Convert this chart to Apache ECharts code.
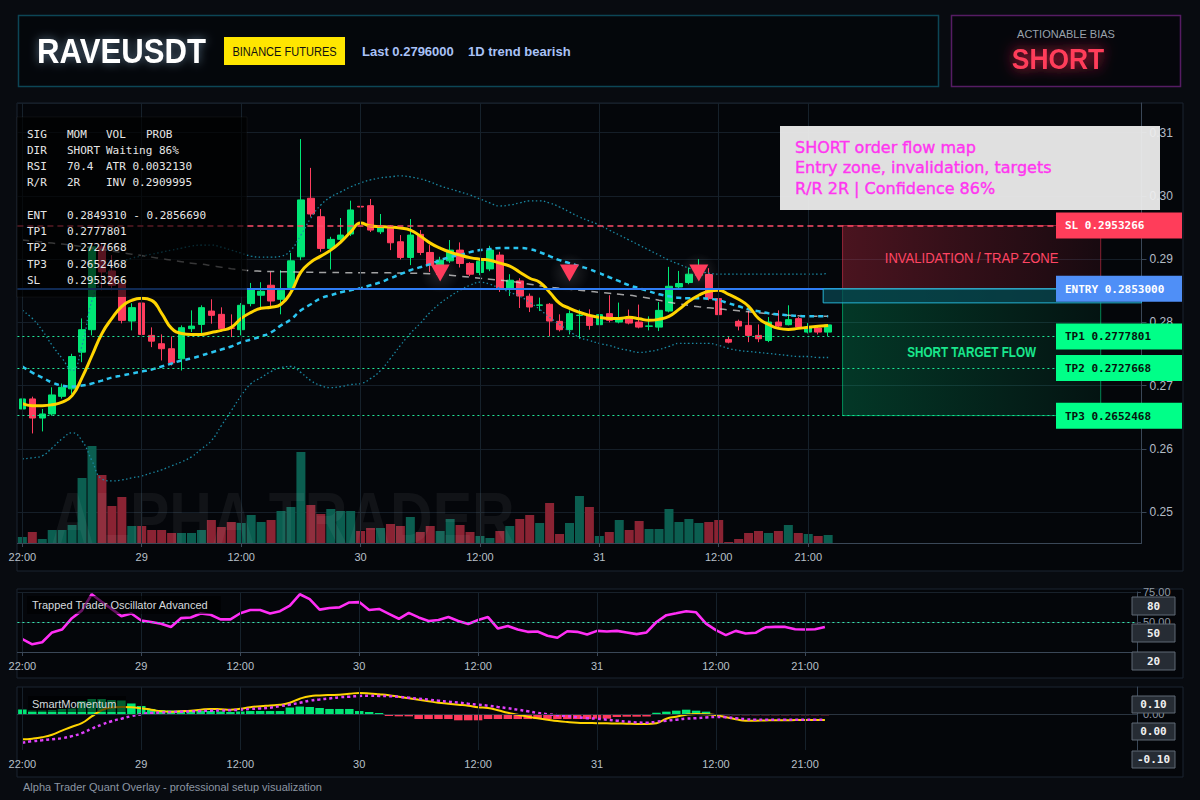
<!DOCTYPE html>
<html><head><meta charset="utf-8">
<script src="https://cdn.jsdelivr.net/npm/echarts@6/dist/echarts.min.js"></script>
<style>html,body{margin:0;padding:0;background:#080b10;}#c{width:1200px;height:800px;}</style>
</head><body><div id="c"></div>
<script>
// ---------- DATA ----------
const SLOT_COUNT = 113; // 82 hourly candles + empty space on the right
const categories = Array.from({length: SLOT_COUNT}, (_, i) => 'h' + i);
const tickIdx = [0, 12, 22, 34, 46, 58, 70, 79];
const tickLabels = ['22:00', '29', '12:00', '30', '12:00', '31', '12:00', '21:00'];

// [open, close, low, high]
const ohlc = [
 [0.26630,0.26789,0.26576,0.26841],[0.26789,0.26487,0.26243,0.26825],[0.26487,0.26551,0.26275,0.26630],[0.26551,0.26852,0.26524,0.26973],
 [0.26830,0.26973,0.26794,0.27032],[0.26948,0.27460,0.26868,0.27503],[0.27529,0.27884,0.27370,0.28063],[0.27884,0.29195,0.27794,0.29254],
 [0.29195,0.28798,0.28508,0.29254],[0.28814,0.28587,0.28508,0.29064],[0.28614,0.28032,0.27984,0.28667],[0.28021,0.28233,0.27873,0.28302],
 [0.28306,0.27810,0.27778,0.28349],[0.27794,0.27703,0.27608,0.27921],[0.27662,0.27583,0.27397,0.27810],[0.27583,0.27360,0.27317,0.27778],
 [0.27424,0.27916,0.27238,0.27952],[0.27900,0.27941,0.27846,0.28190],[0.27968,0.28233,0.27830,0.28270],[0.28179,0.28111,0.27979,0.28365],
 [0.28127,0.27900,0.27857,0.28238],[0.27913,0.27905,0.27767,0.28127],[0.27884,0.28270,0.27794,0.28306],[0.28297,0.28535,0.28254,0.28624],
 [0.28429,0.28492,0.28243,0.28635],[0.28587,0.28338,0.28243,0.28798],[0.28365,0.28508,0.28127,0.28825],[0.28551,0.28973,0.28508,0.29100],
 [0.29037,0.29937,0.28984,0.30900],[0.29963,0.29714,0.29671,0.30444],[0.29671,0.29170,0.29116,0.29794],[0.29170,0.29313,0.28837,0.29354],
 [0.29313,0.29381,0.29286,0.29651],[0.29397,0.29778,0.29365,0.29925],[0.29836,0.29825,0.29794,0.29925],[0.29846,0.29460,0.29429,0.29952],
 [0.29433,0.29513,0.29397,0.29714],[0.29487,0.29259,0.29143,0.29540],[0.29275,0.29027,0.28995,0.29381],[0.29027,0.29381,0.28905,0.29635],
 [0.29392,0.29106,0.29064,0.29460],[0.29106,0.28905,0.28798,0.29222],[0.28905,0.28984,0.28857,0.29037],[0.28973,0.29143,0.28941,0.29302],
 [0.29143,0.28932,0.28868,0.29265],[0.28932,0.28762,0.28730,0.28952],[0.28789,0.28968,0.28746,0.29011],[0.28846,0.29143,0.28810,0.29211],
 [0.29064,0.28524,0.28481,0.29116],[0.28524,0.28667,0.28417,0.28762],[0.28656,0.28417,0.28227,0.28698],[0.28413,0.28243,0.28163,0.28456],
 [0.28270,0.28276,0.28179,0.28392],[0.28286,0.28021,0.27778,0.28306],[0.28016,0.27884,0.27857,0.28127],[0.27884,0.28138,0.27810,0.28190],
 [0.28108,0.28114,0.27741,0.28202],[0.28111,0.27952,0.27884,0.28206],[0.27963,0.28122,0.27873,0.28175],[0.28138,0.28032,0.28000,0.28429],
 [0.28005,0.28068,0.27984,0.28313],[0.28059,0.27989,0.27968,0.28202],[0.28005,0.27925,0.27905,0.28281],[0.27937,0.27944,0.27873,0.28095],
 [0.27925,0.28190,0.27862,0.28322],[0.28179,0.28571,0.28159,0.28878],[0.28560,0.28614,0.28540,0.28814],[0.28630,0.28762,0.28603,0.28868],
 [0.28746,0.28889,0.28714,0.29000],[0.28757,0.28376,0.28349,0.28857],[0.28376,0.28122,0.28043,0.28456],[0.27730,0.27687,0.27667,0.27778],
 [0.28016,0.27941,0.27873,0.28043],[0.27952,0.27794,0.27687,0.28190],[0.27794,0.27741,0.27687,0.27968],[0.27714,0.28005,0.27687,0.28084],
 [0.28005,0.27941,0.27921,0.28190],[0.27963,0.28043,0.27952,0.28270],[0.28059,0.27925,0.27905,0.28084],[0.27846,0.27925,0.27825,0.27989],
 [0.27910,0.27846,0.27810,0.27937],[0.27846,0.27960,0.27783,0.27968]
];

const volume = [6,11,4,13,13,18,65,97,68,37, 46,17,17,13,13,10,10,10,13,23, 16,21,20,28,21,23,32,36,91,38,
 29,34,32,32,12,15,15,19,17,26, 11,17,12,24,18,11,7,5,12,17, 24,28,20,40,9,20,47,36,7,11,
 23,13,22,14,14,34,21,24,20,21, 23,1,4,10,12,10,12,18,10,9, 7,8];

const emaFast = [0.26714,0.26683,0.26683,0.26698,0.26738,0.26841,0.27127,0.27476,0.27825,0.28063,
 0.28254,0.28349,0.28381,0.28349,0.28143,0.27905,0.27825,0.27810,0.27810,0.27841,
 0.27873,0.27921,0.28063,0.28159,0.28222,0.28238,0.28286,0.28476,0.28794,0.28952,
 0.29048,0.29143,0.29270,0.29429,0.29571,0.29524,0.29516,0.29508,0.29492,0.29460,
 0.29365,0.29254,0.29175,0.29111,0.29064,0.29024,0.29000,0.28984,0.28937,0.28889,
 0.28794,0.28698,0.28635,0.28476,0.28302,0.28222,0.28159,0.28111,0.28079,0.28063,
 0.28063,0.28079,0.28056,0.28032,0.28048,0.28095,0.28206,0.28333,0.28429,0.28492,
 0.28508,0.28444,0.28365,0.28254,0.28063,0.27968,0.27905,0.27889,0.27905,0.27921,
 0.27937,0.27952];

const emaSlow = [0.27302,0.27206,0.27127,0.27048,0.27000,0.26984,0.27000,0.27032,0.27079,0.27127,
 0.27159,0.27190,0.27222,0.27254,0.27302,0.27349,0.27397,0.27429,0.27476,0.27524,
 0.27571,0.27619,0.27683,0.27730,0.27778,0.27841,0.27952,0.28048,0.28190,0.28286,
 0.28381,0.28429,0.28476,0.28508,0.28540,0.28587,0.28635,0.28698,0.28762,0.28825,
 0.28873,0.28921,0.28984,0.29032,0.29064,0.29111,0.29143,0.29159,0.29175,0.29175,
 0.29175,0.29159,0.29111,0.29048,0.28984,0.28937,0.28889,0.28841,0.28778,0.28714,
 0.28651,0.28587,0.28540,0.28492,0.28444,0.28413,0.28389,0.28381,0.28381,0.28373,
 0.28349,0.28302,0.28254,0.28206,0.28175,0.28143,0.28127,0.28111,0.28103,0.28095,
 0.28095,0.28095];

const trendMA = [0.29302,0.29286,0.29270,0.29254,0.29238,0.29222,0.29198,0.29175,0.29151,0.29127,
 0.29103,0.29079,0.29056,0.29032,0.29008,0.28984,0.28960,0.28937,0.28921,0.28897,
 0.28873,0.28849,0.28833,0.28817,0.28810,0.28805,0.28802,0.28797,0.28794,0.28792,
 0.28790,0.28789,0.28787,0.28786,0.28786,0.28784,0.28784,0.28783,0.28781,0.28778,
 0.28775,0.28770,0.28762,0.28746,0.28730,0.28714,0.28698,0.28683,0.28667,0.28651,
 0.28627,0.28603,0.28579,0.28556,0.28540,0.28524,0.28508,0.28492,0.28476,0.28460,
 0.28444,0.28429,0.28405,0.28381,0.28349,0.28317,0.28294,0.28270,0.28246,0.28230,
 0.28214,0.28198,0.28183,0.28167,0.28151,0.28135,0.28119,0.28111,0.28103,0.28095,
 0.28095,0.28095];

const bandUpper = [0.28190,0.28063,0.27873,0.27635,0.27429,0.27238,0.27635,0.28349,0.28667,0.28857,
 0.28952,0.29016,0.29048,0.29079,0.29111,0.29143,0.29175,0.29206,0.29222,0.29222,
 0.29190,0.29143,0.29095,0.29048,0.29032,0.29032,0.29048,0.29143,0.29381,0.29651,
 0.29857,0.29984,0.30063,0.30143,0.30206,0.30254,0.30286,0.30302,0.30317,0.30302,
 0.30270,0.30222,0.30159,0.30111,0.30063,0.30016,0.29952,0.29889,0.29841,0.29857,
 0.29889,0.29921,0.29921,0.29889,0.29825,0.29746,0.29667,0.29603,0.29540,0.29460,
 0.29381,0.29302,0.29222,0.29143,0.29064,0.28984,0.28921,0.28857,0.28810,0.28778,
 0.28762,0.28762,0.28762,0.28762,0.28762,0.28762,0.28762,0.28762,0.28762,0.28762,
 0.28762,0.28778];

const bandLower = [0.25841,0.25857,0.25889,0.26016,0.26159,0.26254,0.26127,0.25810,0.25524,0.25492,
 0.25508,0.25540,0.25571,0.25619,0.25667,0.25730,0.25794,0.25873,0.26000,0.26127,
 0.26365,0.26603,0.26841,0.27032,0.27127,0.27222,0.27286,0.27302,0.27206,0.27079,
 0.27000,0.26968,0.26984,0.27016,0.27032,0.27111,0.27238,0.27429,0.27635,0.27825,
 0.27984,0.28159,0.28302,0.28413,0.28508,0.28587,0.28635,0.28603,0.28540,0.28476,
 0.28413,0.28317,0.28206,0.28079,0.27968,0.27857,0.27762,0.27714,0.27667,0.27635,
 0.27587,0.27556,0.27524,0.27540,0.27571,0.27619,0.27667,0.27667,0.27667,0.27667,
 0.27635,0.27587,0.27556,0.27540,0.27524,0.27508,0.27492,0.27476,0.27460,0.27460,
 0.27444,0.27444];

const oscValues = [35.8,31.4,33.1,41.3,43.7,53.2,59.5,73.1,66.9,60.9,
 54.9,57.1,51.3,50.0,48.6,45.9,53.2,53.8,57.1,56.0,
 52.2,52.2,57.3,60.0,60.0,57.1,59.0,63.6,73.1,69.0,
 60.3,61.7,62.2,66.3,66.6,60.0,60.9,56.8,52.7,57.6,
 53.8,50.8,51.6,54.1,50.8,48.3,51.6,54.1,44.5,46.7,
 43.7,41.8,42.1,38.5,36.9,42.3,41.8,39.6,42.6,42.1,
 42.6,41.3,39.9,41.3,50.0,55.7,57.3,59.0,58.1,48.6,
 43.2,39.1,42.6,40.4,41.0,45.6,45.9,45.9,44.0,43.7,
 44.0,45.9];

const momHist = [0.0050,0.0039,0.0039,0.0044,0.0056,0.0061,0.0144,0.0167,0.0167,0.0155,
 0.0150,0.0117,0.0089,0.0056,0.0044,0.0039,0.0039,0.0039,0.0033,0.0033,
 0.0028,0.0022,0.0028,0.0033,0.0033,0.0033,0.0033,0.0072,0.0083,0.0078,
 0.0067,0.0056,0.0056,0.0056,0.0033,0.0022,0.0011,-0.0022,-0.0026,-0.0026,
 -0.0056,-0.0056,-0.0056,-0.0056,-0.0070,-0.0070,-0.0070,-0.0056,-0.0056,-0.0056,
 -0.0056,-0.0056,-0.0056,-0.0056,-0.0056,-0.0056,-0.0056,-0.0056,-0.0052,-0.0052,
 -0.0033,-0.0030,-0.0030,-0.0028,0.0014,0.0026,0.0037,0.0048,0.0037,0.0026,
 -0.0014,-0.0014,-0.0014,-0.0014,-0.0014,-0.0014,-0.0014,-0.0014,-0.0014,-0.0014,
 -0.0014,-0.0014];

const momFast = [-0.0280,-0.0274,-0.0258,-0.0230,-0.0185,-0.0141,-0.0102,-0.0027,0.0042,0.0073,
 0.0078,0.0075,0.0064,0.0048,0.0031,0.0026,0.0031,0.0037,0.0048,0.0056,
 0.0053,0.0048,0.0059,0.0075,0.0087,0.0095,0.0103,0.0125,0.0170,0.0198,
 0.0206,0.0211,0.0214,0.0225,0.0233,0.0229,0.0220,0.0209,0.0192,0.0175,
 0.0159,0.0142,0.0125,0.0114,0.0103,0.0092,0.0075,0.0067,0.0042,0.0014,
 -0.0008,-0.0030,-0.0047,-0.0063,-0.0078,-0.0089,-0.0097,-0.0100,-0.0102,-0.0104,
 -0.0105,-0.0108,-0.0111,-0.0111,-0.0102,-0.0052,-0.0030,-0.0008,0.0000,-0.0002,
 -0.0013,-0.0036,-0.0058,-0.0074,-0.0074,-0.0071,-0.0069,-0.0069,-0.0068,-0.0067,
 -0.0067,-0.0067];

const momSlow = [-0.0319,-0.0302,-0.0291,-0.0280,-0.0269,-0.0246,-0.0213,-0.0163,-0.0119,-0.0080,
 -0.0052,-0.0024,-0.0002,0.0011,0.0017,0.0022,0.0026,0.0029,0.0033,0.0037,
 0.0039,0.0042,0.0048,0.0056,0.0062,0.0070,0.0087,0.0105,0.0125,0.0148,
 0.0162,0.0173,0.0186,0.0192,0.0200,0.0203,0.0201,0.0198,0.0192,0.0181,
 0.0170,0.0159,0.0148,0.0137,0.0128,0.0114,0.0103,0.0092,0.0078,0.0064,
 0.0048,0.0031,0.0011,-0.0002,-0.0013,-0.0024,-0.0036,-0.0047,-0.0052,-0.0063,
 -0.0074,-0.0085,-0.0094,-0.0097,-0.0085,-0.0074,-0.0063,-0.0052,-0.0047,-0.0039,
 -0.0033,-0.0036,-0.0047,-0.0058,-0.0063,-0.0063,-0.0063,-0.0063,-0.0063,-0.0063,
 -0.0063,-0.0063];

const signalIdx = [42, 55, 68];
const signalPrice = [0.2878, 0.2878, 0.2878];

const levelNames = ['SL', 'ENTRY', 'TP1', 'TP2', 'TP3'];
const levelValues = [0.2953266, 0.2853000, 0.2777801, 0.2727668, 0.2652468];

const infoRows = [
  ['SIG', 'MOM', 'VOL', 'PROB'],
  ['DIR', 'SHORT', 'Waiting 86%'],
  ['RSI', '70.4', 'ATR 0.0032130'],
  ['R/R', '2R', 'INV 0.2909995'],
  [],
  ['ENT', '0.2849310 - 0.2856690'],
  ['TP1', '0.2777801'],
  ['TP2', '0.2727668'],
  ['TP3', '0.2652468'],
  ['SL', '0.2953266']
];

// ---------- CHART ----------
const UP = '#00e676', DOWN = '#ff3d5e';
const AXIS = '#3a4757';
const lblFont = 'Liberation Sans';

function xAxisCommon(gridIndex, show) {
  return {
    type: 'category', gridIndex, data: categories, boundaryGap: true, show,
    axisLine: {lineStyle: {color: AXIS}},
    axisTick: {show: true, alignWithLabel: true, length: 4, lineStyle: {color: AXIS},
      interval: (i) => tickIdx.includes(i)},
    axisLabel: {color: '#b8c0c9', fontSize: 11, fontFamily: lblFont, margin: 8,
      interval: (i) => tickIdx.includes(i),
      formatter: (v, i) => { const k = tickIdx.indexOf(i); return k >= 0 ? tickLabels[k] : ''; }},
    splitLine: {show: false}
  };
}
function vLines(xi, yi) {
  return {type: 'line', xAxisIndex: xi, yAxisIndex: yi, data: [], silent: true, z: 1,
    markLine: {silent: true, symbol: ['none', 'none'], label: {show: false}, animation: false,
      lineStyle: {color: '#16212b', width: 1, type: 'solid'},
      data: tickIdx.map(i => ({xAxis: i}))}};
}
const levelStyles = [
  {color: '#ff4d6a', type: [6, 4], width: 1.5},
  {color: '#2f7df6', type: 'solid', width: 2},
  {color: '#22e89a', type: [2, 3], width: 1},
  {color: '#22e89a', type: [2, 3], width: 1},
  {color: '#22e89a', type: [2, 3], width: 1}
];

const chart = echarts.init(document.getElementById('c'), null, {renderer: 'svg'});
const option = {
  animation: false,
  backgroundColor: '#080b10',
  grid: [
    {left: 17.4, right: 58.5, top: 103, height: 440},
    {left: 17.4, right: 58.5, top: 443, height: 100},
    {left: 17.4, right: 63, top: 592, height: 60},
    {left: 17.4, right: 63, top: 687, height: 63}
  ],
  xAxis: [xAxisCommon(0, true), xAxisCommon(1, false), xAxisCommon(2, true), xAxisCommon(3, true)],
  yAxis: [
    {type: 'value', gridIndex: 0, position: 'right', min: 0.2451, max: 0.3147, splitNumber: 7,
      axisLine: {show: true, lineStyle: {color: AXIS}},
      axisTick: {show: true, length: 5, lineStyle: {color: AXIS}},
      axisLabel: {color: '#b4bcc6', fontSize: 12, fontFamily: lblFont, margin: 8, showMinLabel: false, showMaxLabel: false,
        formatter: v => v.toFixed(2)},
      splitLine: {show: true, lineStyle: {color: '#151e28'}}},
    {type: 'value', gridIndex: 1, min: 0, max: 100, show: false},
    {type: 'value', gridIndex: 2, position: 'right', min: 25, max: 75, interval: 25,
      axisLine: {show: true, lineStyle: {color: AXIS}},
      axisTick: {show: true, length: 4, lineStyle: {color: AXIS}},
      axisLabel: {color: '#8f99a4', fontSize: 11, fontFamily: lblFont, margin: 6, showMinLabel: false,
        formatter: v => v.toFixed(2)},
      splitLine: {show: true, lineStyle: {color: '#18212b'}}},
    {type: 'value', gridIndex: 3, position: 'right', min: -0.04, max: 0.03, interval: 0.01,
      axisLine: {show: true, lineStyle: {color: AXIS}},
      axisTick: {show: false},
      axisLabel: {color: '#8f99a4', fontSize: 11, fontFamily: lblFont, margin: 6,
        formatter: v => Math.abs(v) < 1e-9 ? '0.00' : ''},
      splitLine: {show: false}}
  ],
  series: [
    vLines(0, 0), vLines(2, 2), vLines(3, 3),
    {name: 'Volume', type: 'bar', xAxisIndex: 1, yAxisIndex: 1, data: volume, barWidth: 9,
      itemStyle: {color: p => ohlc[p.dataIndex][1] >= ohlc[p.dataIndex][0] ? '#0b5e50' : '#8a2333'}},
    {name: 'Upper band', type: 'line', data: bandUpper, symbol: 'none', smooth: true,
      lineStyle: {color: '#1a88a3', width: 1.3, type: [1.5, 2.5]}},
    {name: 'Lower band', type: 'line', data: bandLower, symbol: 'none', smooth: true,
      lineStyle: {color: '#1a88a3', width: 1.3, type: [1.5, 2.5]}},
    {name: 'Trend', type: 'line', data: trendMA, symbol: 'none', smooth: true,
      lineStyle: {color: 'rgba(215,215,215,0.75)', width: 1.5, type: [7, 6]},
      markLine: {silent: true, symbol: ['none', 'none'], label: {show: false}, animation: false, precision: 7,
        data: levelValues.map((v, k) => ({yAxis: v, lineStyle: levelStyles[k]}))}},
    {name: 'Price', type: 'candlestick', data: ohlc, barWidth: 7,
      itemStyle: {color: UP, color0: DOWN, borderColor: UP, borderColor0: DOWN, borderWidth: 1}},
    {name: 'Slow MA', type: 'line', data: emaSlow, symbol: 'none', smooth: true,
      lineStyle: {color: '#2bc4f0', width: 2.5, type: [5, 4]}},
    {name: 'Fast MA', type: 'line', data: emaFast, symbol: 'none', smooth: true,
      lineStyle: {color: '#ffd400', width: 3}},
    {name: 'Signal glow', type: 'scatter', data: signalIdx.map((i, k) => [i, signalPrice[k]]),
      symbol: 'circle', symbolSize: 40, z: 4, silent: true,
      itemStyle: {color: {type: 'radial', x: 0.5, y: 0.5, r: 0.5, colorStops: [
        {offset: 0, color: 'rgba(255,255,255,0.16)'}, {offset: 0.5, color: 'rgba(255,255,255,0.07)'},
        {offset: 1, color: 'rgba(255,255,255,0)'}]}}},
    {name: 'Signals', type: 'scatter', data: signalIdx.map((i, k) => [i, signalPrice[k]]),
      symbol: 'triangle', symbolRotate: 180, symbolSize: [19, 17], z: 5,
      itemStyle: {color: '#ff3b5c', opacity: 1}},
    {name: 'Trapped Trader', type: 'line', xAxisIndex: 2, yAxisIndex: 2, data: oscValues, symbol: 'none',
      lineStyle: {color: '#ff2ef5', width: 2.6},
      markLine: {silent: true, symbol: ['none', 'none'], label: {show: false}, animation: false,
        data: [{yAxis: 50}], lineStyle: {color: '#35e8ae', type: [2, 3], width: 1}}},
    {name: 'Momentum hist', type: 'bar', xAxisIndex: 3, yAxisIndex: 3, data: momHist, barWidth: 8.5,
      itemStyle: {color: p => p.value >= 0 ? '#00e676' : '#ff3b5c'},
      markLine: {silent: true, symbol: ['none', 'none'], label: {show: false}, animation: false,
        data: [{yAxis: 0}], lineStyle: {color: '#2a3440', type: 'solid', width: 1}}},
    {name: 'Momentum', type: 'line', xAxisIndex: 3, yAxisIndex: 3, data: momFast, symbol: 'none', smooth: true,
      lineStyle: {color: '#ffd400', width: 2}},
    {name: 'Momentum signal', type: 'line', xAxisIndex: 3, yAxisIndex: 3, data: momSlow, symbol: 'none', smooth: true,
      lineStyle: {color: '#e040fb', width: 2.5, type: [3, 3]}}
  ]
};
chart.setOption(option);

// ---------- ANNOTATIONS ----------
const G = [];
function rect(x, y, w, h, style, z) { G.push({type: 'rect', shape: {x, y, width: w, height: h}, style, z: z, silent: true}); }
function text(x, y, str, style, z, extra) {
  G.push(Object.assign({type: 'text', x, y, z: z, silent: true,
    style: Object.assign({text: str, fontFamily: lblFont, align: 'left', verticalAlign: 'middle'}, style)}, extra || {}));
}
const toPx = (i, p) => chart.convertToPixel({gridIndex: 0}, [i, p]);
const band = toPx(1, 0.28)[0] - toPx(0, 0.28)[0];
const lvY = levelValues.map(v => toPx(0, v)[1]);
const zoneL = toPx(82, 0.28)[0] + band * 0.45;
const zoneR = toPx(108, 0.28)[0] + band * 0.4;
const entryL = toPx(80, 0.28)[0] + band * 0.5;
const plotR = toPx(SLOT_COUNT - 1, 0.28)[0] + band * 0.5;

// panels
rect(17, 103, 1166, 468, {fill: '#04060a', stroke: '#1b2430', lineWidth: 1}, -10);
rect(17, 589, 1166, 89, {fill: '#04060a', stroke: '#1b2430', lineWidth: 1}, -10);
rect(17, 687, 1166, 90, {fill: '#04060a', stroke: '#1b2430', lineWidth: 1}, -10);

// header
rect(18.5, 15.5, 920, 71, {fill: '#04070b', stroke: '#0c4656', lineWidth: 1.5}, -10);
rect(951.5, 15.5, 229, 71, {fill: '#05060b', stroke: '#561c63', lineWidth: 1.5}, -10);
text(37, 51, 'RAVEUSDT', {fill: '#ffffff', fontSize: 36, fontWeight: 'bold',
  textShadowColor: 'rgba(170,215,255,0.5)', textShadowBlur: 10}, 60, {scaleX: 0.865});
rect(224, 37, 121, 28, {fill: '#ffe600'}, 50);
text(284.5, 51.5, 'BINANCE FUTURES', {fill: '#111111', fontSize: 13, align: 'center'}, 60, {scaleX: 0.85});
text(362, 51, 'Last 0.2796000', {fill: '#a9c2f7', fontSize: 13, fontWeight: 'bold'}, 60);
text(468, 51, '1D trend bearish', {fill: '#a9c2f7', fontSize: 13, fontWeight: 'bold'}, 60);
text(1066, 34, 'ACTIONABLE BIAS', {fill: '#9aa3ad', fontSize: 11, align: 'center'}, 60);
text(1058, 58, 'SHORT', {fill: '#ff3d5a', fontSize: 30, fontWeight: 'bold', align: 'center',
  textShadowColor: 'rgba(255,40,80,0.85)', textShadowBlur: 14}, 60, {scaleX: 0.88});

// watermark
text(283, 518, 'ALPHA TRADER', {fill: 'rgba(255,255,255,0.055)', fontSize: 72, fontWeight: 'bold', align: 'center'}, 45, {scaleX: 0.82});

// info box
rect(17, 117, 230, 180, {fill: 'rgba(0,0,0,0.66)', stroke: 'rgba(255,255,255,0.05)', lineWidth: 1}, 50);
const colX = [27, 67, 106, 146];
const rowY = [134, 150, 166, 182.5, 199, 215, 231, 247, 264, 280];
infoRows.forEach((row, r) => row.forEach((cell, c) =>
  text(colX[c], rowY[r], cell, {fill: '#e6e6e6', fontSize: 11, fontFamily: 'DejaVu Sans Mono'}, 60)));

// annotation box
rect(780, 126, 380, 84, {fill: 'rgba(238,238,238,0.94)'}, 50);
['SHORT order flow map', 'Entry zone, invalidation, targets', 'R/R 2R | Confidence 86%'].forEach((s, k) =>
  text(795, 147.5 + k * 20.3, s, {fill: '#ff36f0', fontSize: 16, fontFamily: 'DejaVu Sans',
    stroke: '#ff36f0', lineWidth: 0.4}, 60));

// zones
rect(zoneL, lvY[0], zoneR - zoneL, lvY[1] - lvY[0], {
  fill: {type: 'linear', x: 0, y: 0, x2: 1, y2: 0, colorStops: [
    {offset: 0, color: 'rgba(255,55,85,0.28)'}, {offset: 1, color: 'rgba(255,55,85,0.08)'}]},
  stroke: 'rgba(255,60,90,0.5)', lineWidth: 1}, 20);
rect(zoneL, lvY[1], zoneR - zoneL, lvY[4] - lvY[1], {
  fill: {type: 'linear', x: 0, y: 0, x2: 1, y2: 0, colorStops: [
    {offset: 0, color: 'rgba(0,230,140,0.22)'}, {offset: 1, color: 'rgba(0,230,140,0.06)'}]},
  stroke: 'rgba(0,230,140,0.55)', lineWidth: 1}, 20);
rect(entryL, lvY[1], plotR - entryL, 14, {fill: 'rgba(8,70,80,0.75)', stroke: '#26b5d6', lineWidth: 1}, 21);
text((zoneL + zoneR) / 2, (lvY[0] + lvY[1]) / 2, 'INVALIDATION / TRAP ZONE',
  {fill: '#ff4563', fontSize: 15, align: 'center'}, 22, {scaleX: 0.87});
text((zoneL + zoneR) / 2, (lvY[1] + lvY[4]) / 2, 'SHORT TARGET FLOW',
  {fill: '#19e68c', fontSize: 15, fontWeight: 'bold', align: 'center'}, 22, {scaleX: 0.78});

// price tags
const tagFill = ['#ff3d5a', '#4f8ff7', '#00ff88', '#00ff88', '#00ff88'];
const tagText = ['#ffffff', '#ffffff', '#06140d', '#06140d', '#06140d'];
levelNames.forEach((n, k) => {
  rect(1056, lvY[k] - 13, 126, 26, {fill: tagFill[k]}, 70);
  text(1065, lvY[k] + 0.5, n + ' ' + levelValues[k].toFixed(7),
    {fill: tagText[k], fontSize: 11, fontWeight: 'bold', fontFamily: 'DejaVu Sans Mono'}, 71);
});

// sub-panel titles
rect(27, 596, 194, 18, {fill: 'rgba(0,0,0,0.6)'}, 50);
text(32, 605, 'Trapped Trader Oscillator Advanced', {fill: '#d6dade', fontSize: 11}, 60);
rect(28, 696, 98, 16, {fill: 'rgba(0,0,0,0.6)'}, 50);
text(32, 704, 'SmartMomentum', {fill: '#d6dade', fontSize: 11}, 60);

// level boxes on sub-panels
function valBox(y, h, s) {
  rect(1132, y, 43, h, {fill: '#262c34', stroke: '#5f6975', lineWidth: 1}, 70);
  text(1153.5, y + h / 2, s, {fill: '#f0f0f0', fontSize: 11, fontWeight: 'bold', fontFamily: 'DejaVu Sans Mono', align: 'center'}, 71);
}
valBox(597, 18, '80'); valBox(624, 18, '50'); valBox(652, 18, '20');
valBox(696, 17, '0.10'); valBox(723, 17, '0.00'); valBox(751, 17, '-0.10');

// footer
text(23, 787, 'Alpha Trader Quant Overlay - professional setup visualization', {fill: '#8c96a3', fontSize: 11}, 60);

chart.setOption({graphic: {elements: G}});
</script>
</body></html>
